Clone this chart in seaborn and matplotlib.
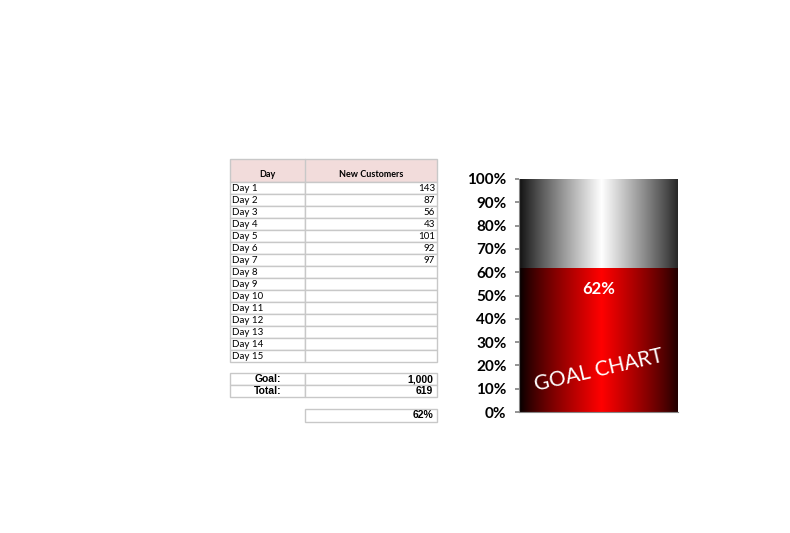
import numpy as np
import pandas as pd
import seaborn as sns
import matplotlib.pyplot as plt
from matplotlib.patches import Rectangle
from matplotlib.ticker import PercentFormatter

sns.set_theme(style="white")
plt.rcParams['font.family'] = ['Lato', 'DejaVu Sans']
plt.rcParams['text.color'] = 'black'

days = ["Day 1", "Day 2", "Day 3", "Day 4", "Day 5", "Day 6", "Day 7", "Day 8",
        "Day 9", "Day 10", "Day 11", "Day 12", "Day 13", "Day 14", "Day 15"]
customers = [143, 87, 56, 43, 101, 92, 97, None, None, None, None, None, None, None, None]
goal = 1000

total = sum(c for c in customers if c is not None)
pct = total / goal

fig = plt.figure(figsize=(7.9, 5.33), dpi=100)

# ---- table drawn in pixel coords
tab = fig.add_axes([0, 0, 1, 1])
tab.set_xlim(0, 790)
tab.set_ylim(533, 0)
tab.axis('off')

grid = '#c8c8c8'
x0, xm, x1 = 230, 305, 437
hdr_top, hdr_bot, rh = 159, 182, 12

tab.add_patch(Rectangle((x0, hdr_top), x1 - x0, hdr_bot - hdr_top,
                        facecolor='#f2dcdb', edgecolor=grid, lw=1))
tab.plot([xm, xm], [hdr_top, hdr_bot], color=grid, lw=1)
tab.text((x0 + xm) / 2, hdr_bot - 3, "Day", ha='center', va='bottom',
         fontsize=6.5, fontweight='bold')
tab.text((xm + x1) / 2, hdr_bot - 3, "New Customers", ha='center', va='bottom',
         fontsize=6.5, fontweight='bold')

for i, (d, c) in enumerate(zip(days, customers)):
    y = hdr_bot + i * rh
    tab.add_patch(Rectangle((x0, y), xm - x0, rh, facecolor='white', edgecolor=grid, lw=1))
    tab.add_patch(Rectangle((xm, y), x1 - xm, rh, facecolor='white', edgecolor=grid, lw=1))
    tab.text(x0 + 2, y + rh / 2 + 0.5, d, ha='left', va='center', fontsize=7)
    if c is not None:
        tab.text(x1 - 2, y + rh / 2 + 0.5, str(c), ha='right', va='center', fontsize=7)

gy = 373
for j, (lab, val) in enumerate([("Goal:", f"{goal:,}"), ("Total:", f"{total:,}")]):
    y = gy + j * rh
    tab.add_patch(Rectangle((x0, y), xm - x0, rh, facecolor='white', edgecolor=grid, lw=1))
    tab.add_patch(Rectangle((xm, y), x1 - xm, rh, facecolor='white', edgecolor=grid, lw=1))
    tab.text((x0 + xm) / 2, y + rh / 2 + 0.5, lab, ha='center', va='center',
             fontsize=7.5, fontweight='bold', family='Liberation Sans')
    tab.text(x1 - 4, y + rh / 2 + 0.5, val, ha='right', va='center',
             fontsize=7.5, fontweight='bold', family='Liberation Sans')

tab.add_patch(Rectangle((xm, 409), x1 - xm, 13, facecolor='white', edgecolor=grid, lw=1))
tab.text(x1 - 4, 415.5, f"{pct:.0%}", ha='right', va='center',
         fontsize=7.5, fontweight='bold', family='Liberation Sans')

# ---- goal chart
ax = fig.add_axes([519 / 790, 121 / 533, 159 / 790, 233 / 533])
df = pd.DataFrame({"bar": ["goal"], "full": [1.0], "done": [pct]})
sns.barplot(data=df, x="bar", y="full", width=1, color='gray', ax=ax)
sns.barplot(data=df, x="bar", y="done", width=1, color='red', ax=ax)
ax.set_xlim(-0.5, 0.5)
ax.set_ylim(0, 1)

xs = np.linspace(0, 1, 400)
t = np.clip(1 - np.abs(xs - 0.52) / 0.52, 0, 1)
gray_img = np.stack([0.06 + 0.94 * t ** 0.9] * 3, axis=-1)[None, :, :]
red_img = np.stack([t ** 0.8, np.zeros_like(t), np.zeros_like(t)], axis=-1)[None, :, :]

for patch, img in zip(ax.patches[:2], [gray_img, red_img]):
    patch.set_facecolor('none')
    patch.set_edgecolor('none')
    im = ax.imshow(img, extent=[-0.5, 0.5, 0, 1], aspect='auto', zorder=2)
    im.set_clip_path(patch)

ax.set_xlabel("")
ax.set_ylabel("")
ax.set_xticks([])
ax.set_yticks(np.arange(0, 1.01, 0.1))
ax.yaxis.set_major_formatter(PercentFormatter(1.0, decimals=0))
ax.tick_params(axis='y', left=True, length=3, color='#868686', pad=6,
               labelsize=11, labelcolor='black')
for lab in ax.get_yticklabels():
    lab.set_fontweight('bold')
for s in ['top', 'right']:
    ax.spines[s].set_visible(False)
for s in ['left', 'bottom']:
    ax.spines[s].set_color('#868686')
    ax.spines[s].set_linewidth(0.8)

ax.text(0.0, 0.53, f"{pct:.0%}", ha='center', va='center', color='white',
        fontsize=12, fontweight='bold', zorder=5)
ax.text(0.0, 0.18, "GOAL CHART", ha='center', va='center', color='white',
        fontsize=15, rotation=13, zorder=5)

fig.savefig("out.png", dpi=100)
